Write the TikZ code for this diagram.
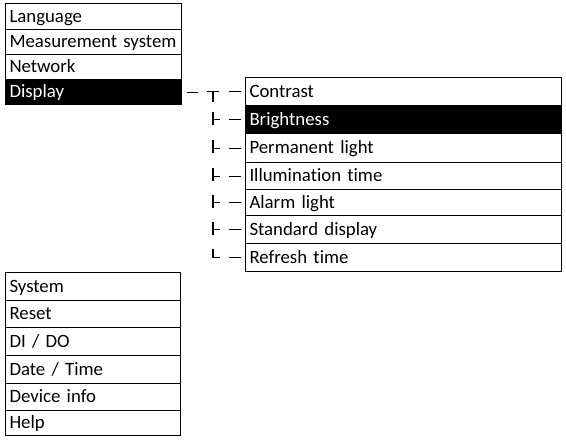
\documentclass[tikz,border=0pt]{standalone}
\usepackage{fontspec}
\setmainfont{Carlito}[Ligatures=NoCommon, WordSpace=0.8]
\usetikzlibrary{calc}
\begin{document}
\begin{tikzpicture}[x=1pt,y=-1pt,
  rowbox/.style={draw=black, line width=1pt, anchor=north west, inner xsep=4pt, inner ysep=0pt,
    text height=14.5pt, text depth=3pt, align=left, font=\fontsize{18.8}{22}\selectfont},
  lefttab/.style={rowbox, text width=168pt},
  subtab/.style={rowbox, text width=308pt},
  sel/.style={fill=black, text=white},
  conn/.style={draw=black, line width=1pt},
  vconn/.style={draw=black, line width=1.6pt}]
\useasboundingbox (0,0) rectangle (566,440);
% top-left menu
\node[lefttab, minimum height=26pt] (lang) at (5,3) {Language};
\node[lefttab, minimum height=25pt] (meas) at (5,29) {Measurement system};
\node[lefttab, minimum height=25pt] (net) at (5,54) {Network};
\node[lefttab, sel, minimum height=25pt] (disp) at (5,79) {Display};
% submenu
\node[subtab, minimum height=28pt] (s1) at (245,77) {Contrast};
\node[subtab, sel, minimum height=28pt] (s2) at (245,105) {Brightness};
\node[subtab, minimum height=29pt] (s3) at (245,133) {Permanent light};
\node[subtab, minimum height=27pt] (s4) at (245,162) {Illumination time};
\node[subtab, minimum height=26pt] (s5) at (245,189) {Alarm light};
\node[subtab, minimum height=28pt] (s6) at (245,215) {Standard display};
\node[subtab, minimum height=28pt] (s7) at (245,243) {Refresh time};
% bottom-left menu
\node[rowbox, text width=167pt, minimum height=28pt] (sys) at (5,272) {System};
\node[rowbox, text width=167pt, minimum height=27pt] (res) at (5,300) {Reset};
\node[rowbox, text width=167pt, minimum height=28pt] (dido) at (5,327) {DI / DO};
\node[rowbox, text width=167pt, minimum height=28pt] (date) at (5,355) {Date / Time};
\node[rowbox, text width=167pt, minimum height=27pt] (dev) at (5,383) {Device info};
\node[rowbox, text width=167pt, minimum height=25pt] (help) at (5,410) {Help};
% connectors
\draw[conn] ($(disp.east)+(5,0)$) -- ($(disp.east)+(16,0)$);
\draw[conn] ($(s1.west)+(-38,0)$) -- ($(s1.west)+(-26,0)$);
\draw[vconn] ($(s1.west)+(-32,0)$) -- ($(s1.west)+(-32,10)$);
\foreach \r in {s1,s2,s3,s4,s5,s6,s7}
  \draw[conn] ($(\r.west)+(-16,0)$) -- ($(\r.west)+(-4,0)$);
\foreach \r in {s2,s3,s4,s5,s6}{
  \draw[vconn] ($(\r.west)+(-32,-8)$) -- ($(\r.west)+(-32,5)$);
  \draw[conn] ($(\r.west)+(-32,0)$) -- ($(\r.west)+(-25,0)$);}
\draw[vconn] ($(s7.west)+(-32,-9)$) -- ($(s7.west)+(-32,0)$);
\draw[conn] ($(s7.west)+(-32.8,0)$) -- ($(s7.west)+(-25,0)$);
\end{tikzpicture}
\end{document}
